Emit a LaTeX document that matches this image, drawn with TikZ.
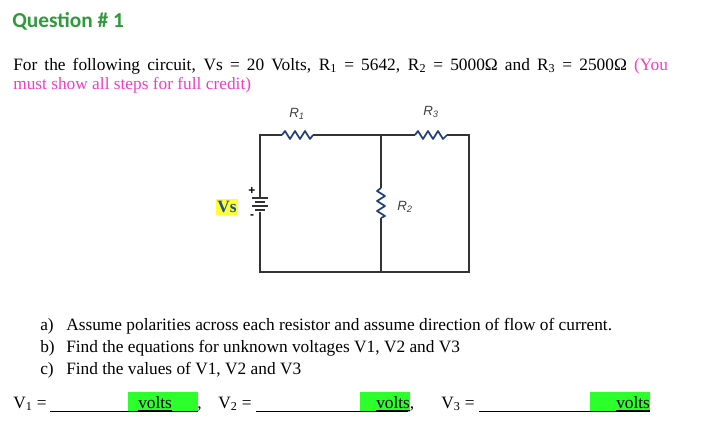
\documentclass[tikz,border=0pt]{standalone}
\usepackage{fontspec}
\setmainfont{Liberation Serif}
\setsansfont{Liberation Sans}
\newfontfamily\titlefont{Carlito}
\definecolor{qgreen}{HTML}{2E9A3C}
\definecolor{pinkt}{HTML}{F03CC8}
\definecolor{resblue}{HTML}{24407A}
\definecolor{vsblue}{HTML}{1F4E9A}
\definecolor{hlgreen}{HTML}{2CFF2C}
\definecolor{hlyellow}{HTML}{FFFF33}
\begin{document}
\begin{tikzpicture}[x=0.75pt,y=-0.75pt,
  wire/.style={line width=1.3pt,black!80},
  res/.style={line width=1.3pt,resblue,line join=round},
  rlab/.style={font=\sffamily\itshape\fontsize{10}{12}\selectfont,black!75,inner sep=0pt},
  body/.style={font=\fontsize{13}{15}\selectfont,inner sep=0pt,anchor=base west},
  hl/.style={fill=hlgreen,draw=none}]
\useasboundingbox (0,0) rectangle (724,436);
\node[anchor=base west,inner sep=0pt,font=\titlefont\bfseries\fontsize{16}{18}\selectfont,text=qgreen] (title) at (12,27) {Question \# 1};
\node[body] (l1) at (13,70) {\makebox[491pt][s]{For the following circuit, Vs = 20 Volts, R\textsubscript{1} = 5642, R\textsubscript{2} = 5000Ω and R\textsubscript{3} = 2500Ω \textcolor{pinkt}{(You}}};
\node[body,text=pinkt] (l2) at (13,89) {must show all steps for full credit)};
% circuit coordinates
\coordinate (tl) at (260,135); \coordinate (tm) at (381,135); \coordinate (tr) at (469,135);
\coordinate (bl) at (260,272); \coordinate (bm) at (381,272); \coordinate (br) at (469,272);
\coordinate (r1a) at (282,135); \coordinate (r1b) at (313,135);
\coordinate (r3a) at (415,135); \coordinate (r3b) at (447,135);
\coordinate (r2a) at (381,188); \coordinate (r2b) at (381,218);
\coordinate (ba) at (260,197); \coordinate (bb) at (260,212);
\draw[wire] (ba) -- (tl) -- (r1a);
\draw[wire] (r1b) -- (tm) -- (r3a);
\draw[wire] (r3b) -- (tr) -- (br) -- (bm) -- (bl) -- (bb);
\draw[wire] (tm) -- (r2a);
\draw[wire] (r2b) -- (bm);
\draw[res] (r1a) -- ++(3,-4) -- ++(5,8) -- ++(5,-8) -- ++(5,8) -- ++(5,-8) -- ++(5,8) -- (r1b);
\draw[res] (r3a) -- ++(3,-4) -- ++(5,8) -- ++(5,-8) -- ++(5,8) -- ++(5,-8) -- ++(5,8) -- (r3b);
\draw[res] (r2a) -- ++(-4,3) -- ++(8,5) -- ++(-8,5) -- ++(8,5) -- ++(-8,5) -- ++(8,5) -- (r2b);
% battery
\draw[line width=1.1pt,black!80] (252,198) -- (268,198) (255,202) -- (265,202) (252,206) -- (268,206) (255,210) -- (265,210);
\node[font=\sffamily\small\bfseries,inner sep=0pt] (plus) at (252,191) {+};
\node[font=\sffamily\small\bfseries,inner sep=0pt] (minus) at (252,217) {-};
\node[rlab] (R1) at (297,114) {R\textsubscript{1}};
\node[rlab] (R3) at (431,112) {R\textsubscript{3}};
\node[rlab] (R2) at (405,207) {R\textsubscript{2}};
\node[fill=hlyellow,inner xsep=1pt,inner ysep=2pt,text=vsblue,font=\fontsize{13}{15}\selectfont\bfseries] (vs) at (227,207) {Vs};
% list
\node[body] (a) at (40,330) {a)};
\node[body] (at) at (66,330) {Assume polarities across each resistor and assume direction of flow of current.};
\node[body] (b) at (40,352) {b)};
\node[body] (bt) at (66,352) {Find the equations for unknown voltages V1, V2 and V3};
\node[body] (c) at (40,374) {c)};
\node[body] (ct) at (66,374) {Find the values of V1, V2 and V3};
% answers
\fill[hl] (128,392) rectangle (198,412);
\fill[hl] (360,392) rectangle (410,412);
\fill[hl] (590,392) rectangle (650,412);
\node[body] (v1) at (13,408) {V\textsubscript{1} =};
\node[body] (u1) at (138,408) {\underline{volts}};
\node[body] (c1) at (197,408) {,};
\draw[line width=0.6pt] (50,411) -- (198,411);
\node[body] (v2) at (218,408) {V\textsubscript{2} =};
\node[body] (u2) at (376,408) {\underline{volts},};
\draw[line width=0.6pt] (256,411) -- (408,411);
\node[body] (v3) at (441,408) {V\textsubscript{3} =};
\node[body] (u3) at (616,408) {\underline{volts}};
\draw[line width=0.6pt] (479,411) -- (650,411);
\end{tikzpicture}
\end{document}
